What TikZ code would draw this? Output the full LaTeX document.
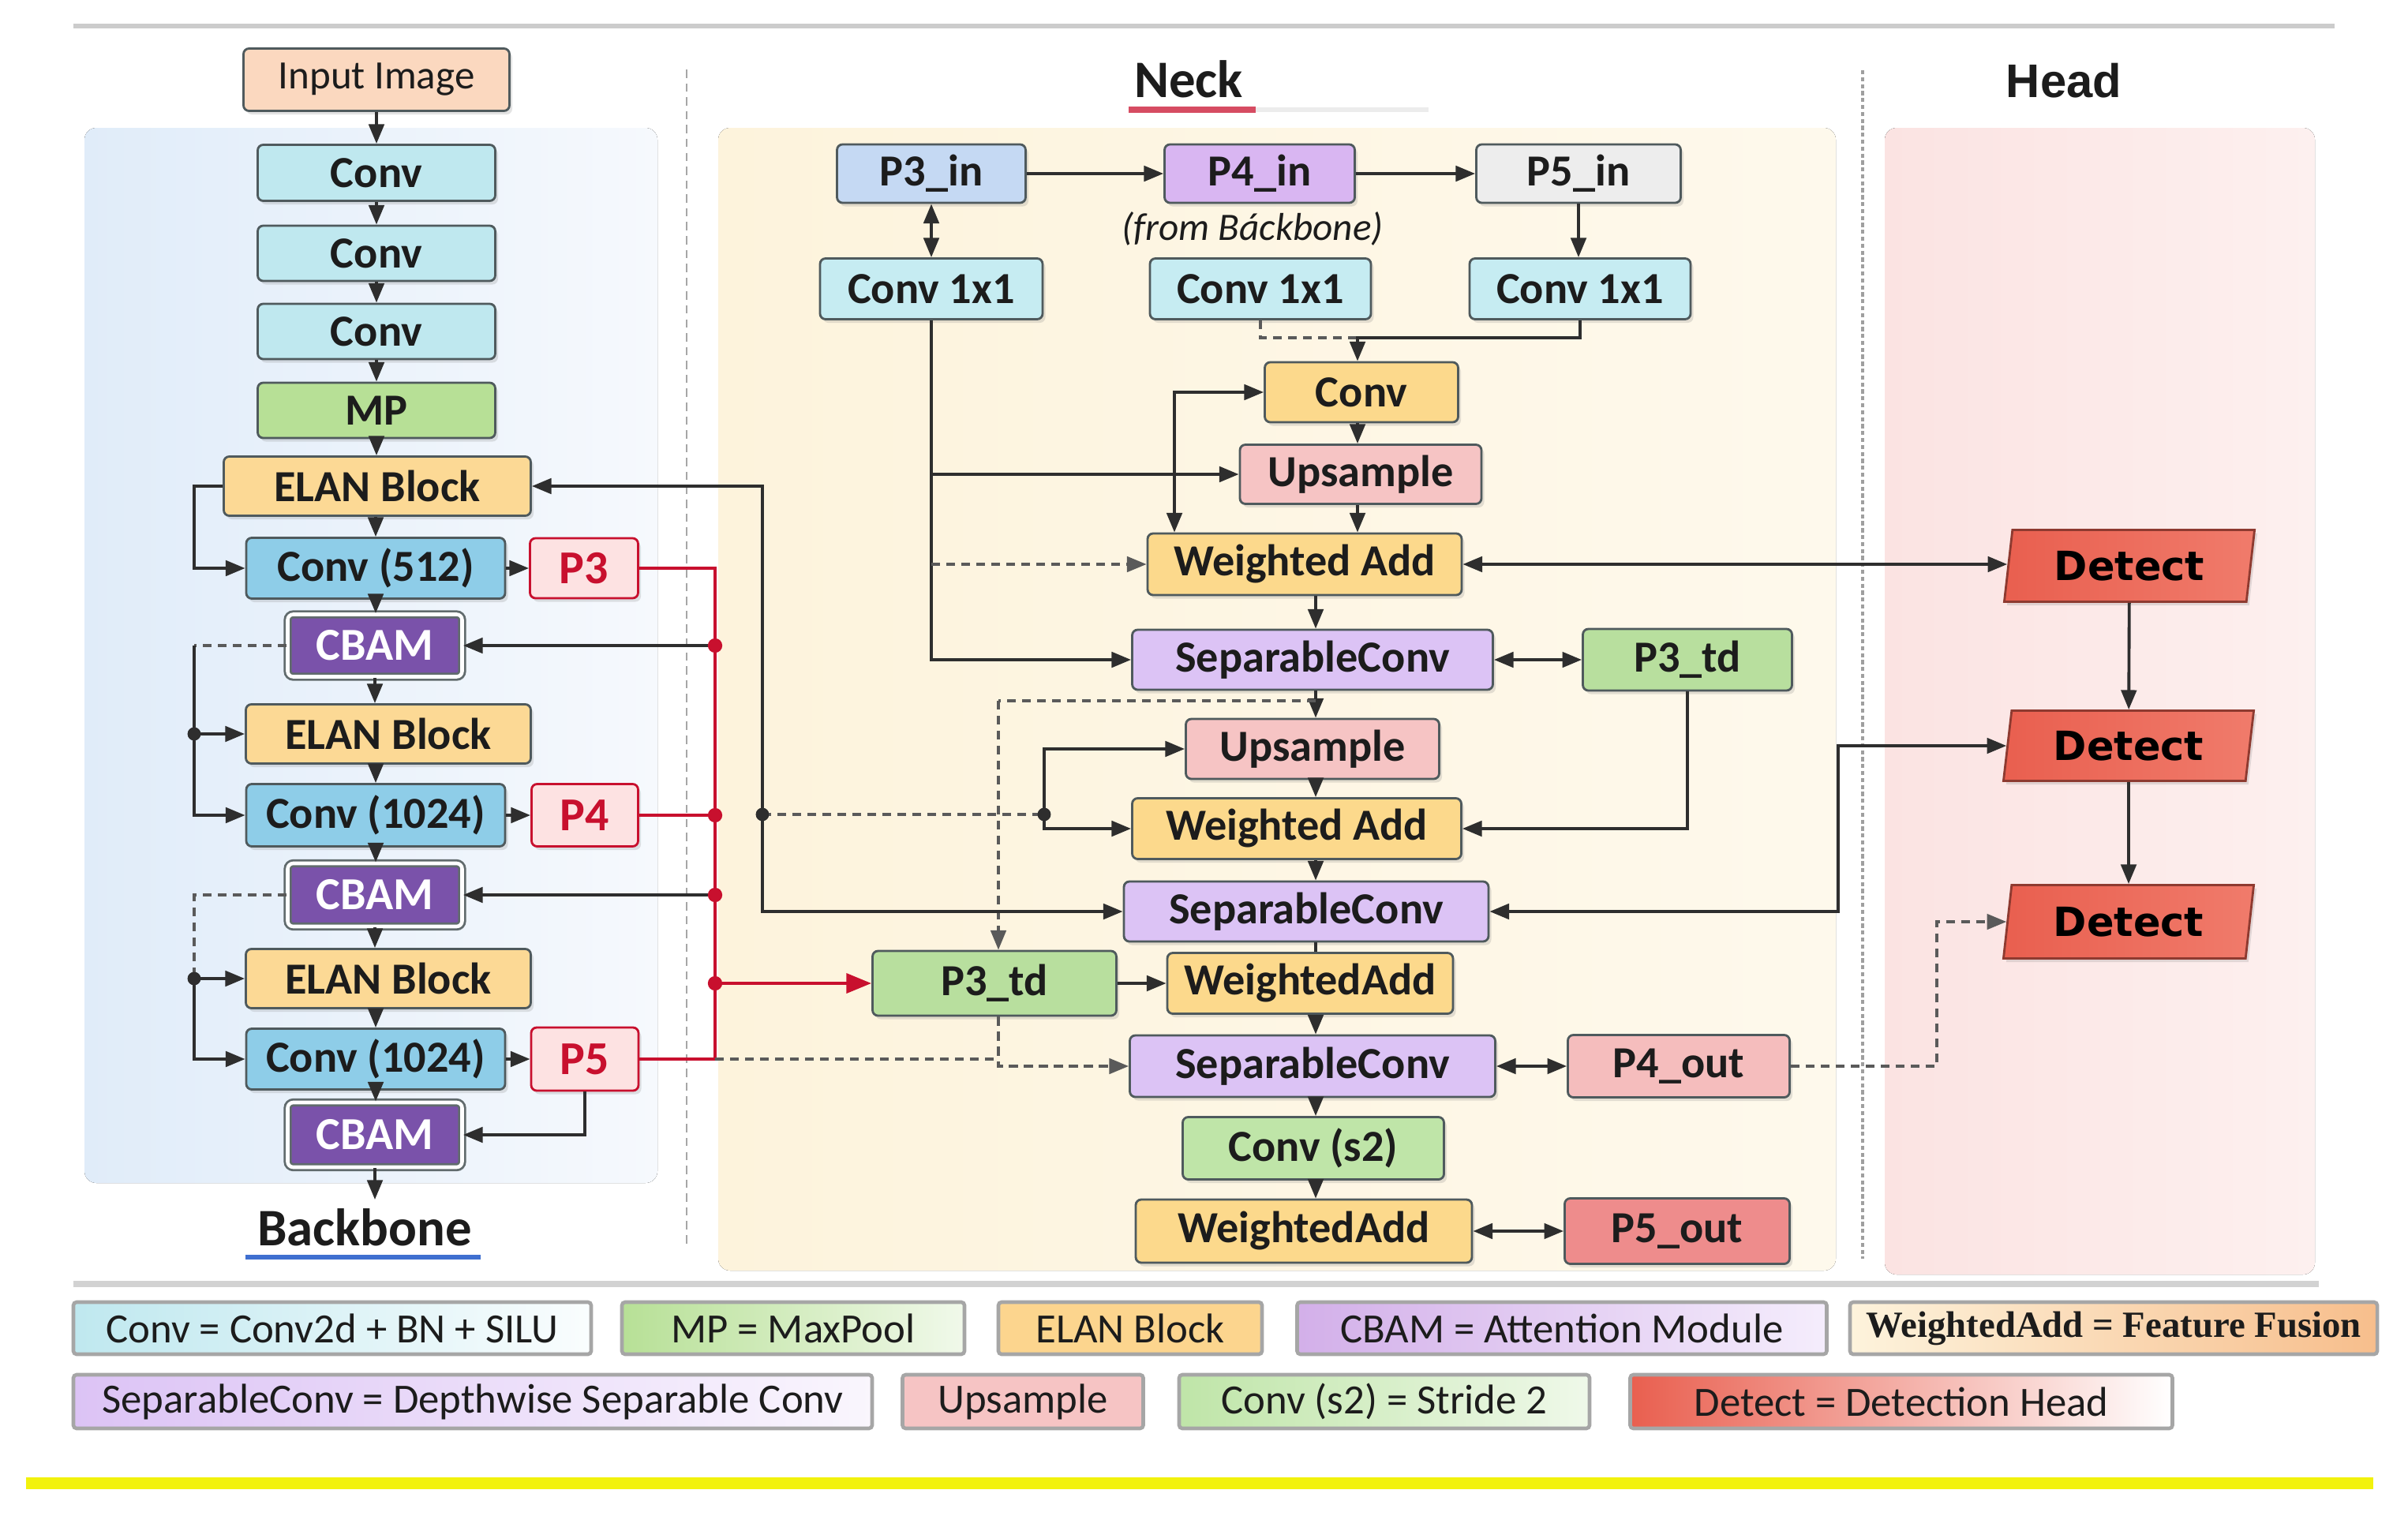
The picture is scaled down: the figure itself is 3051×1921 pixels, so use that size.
\documentclass[tikz,border=0pt]{standalone}
\usepackage{fontspec}
\setmainfont{Carlito}
\newfontfamily\detfont{DejaVu Sans}
\newfontfamily\headfont{Liberation Sans}
\newfontfamily\legserif{Liberation Serif}
\usetikzlibrary{arrows.meta,shapes.geometric,shadows}
\definecolor{txt}{HTML}{1C1C1C}
\definecolor{bord}{HTML}{4F5A5D}
\definecolor{linec}{HTML}{2E2E2E}
\definecolor{dashc}{HTML}{5A5A5A}
\definecolor{cInput}{HTML}{FBD8BF}
\definecolor{cConv}{HTML}{BFE8EF}
\definecolor{cMP}{HTML}{B7E096}
\definecolor{cElan}{HTML}{FCD995}
\definecolor{cConvB}{HTML}{8ECDE8}
\definecolor{cPfill}{HTML}{FDE2E2}
\definecolor{cPred}{HTML}{C8102E}
\definecolor{cCbam}{HTML}{7A52AA}
\definecolor{cP3in}{HTML}{C5D9F3}
\definecolor{cP4in}{HTML}{D9B6F2}
\definecolor{cP5in}{HTML}{EDEDED}
\definecolor{cC11}{HTML}{C6ECF2}
\definecolor{cOr}{HTML}{FCD98C}
\definecolor{cUp}{HTML}{F6C4C4}
\definecolor{cSep}{HTML}{DCC3F5}
\definecolor{cTd}{HTML}{B8DF9E}
\definecolor{cS2}{HTML}{BFE5A8}
\definecolor{cP4o}{HTML}{F5BDBD}
\definecolor{cP5o}{HTML}{EE8C8C}
\definecolor{detL}{HTML}{E95F4F}
\definecolor{detR}{HTML}{F07B6B}
\definecolor{detB}{HTML}{8E3A30}
\definecolor{redln}{HTML}{C8102E}
\definecolor{bbL}{HTML}{E0ECF9}
\definecolor{bbR}{HTML}{F6F9FD}
\definecolor{nkL}{HTML}{FDF3DC}
\definecolor{nkR}{HTML}{FEF9EC}
\definecolor{hdL}{HTML}{FBE3E2}
\definecolor{hdR}{HTML}{FDF0EF}
\definecolor{yel}{HTML}{F2F20C}
\definecolor{blueul}{HTML}{3F6FD0}
\definecolor{wafus}{HTML}{F7BE8C}
\begin{document}
\begin{tikzpicture}[x=0.01cm,y=-0.01cm,
  >={Triangle[length=7pt,width=5.5pt]},
  box/.style={draw=bord, line width=0.8pt, rounded corners=0.07cm, inner sep=0pt, text=txt,
    font=\bfseries\fontsize{16}{18}\selectfont,
    drop shadow={shadow xshift=0.035cm, shadow yshift=-0.045cm, opacity=0.22}},
  sz/.style 2 args={minimum width=#1*0.01cm, minimum height=#2*0.01cm},
  pbox/.style={box, fill=cPfill, draw=cPred, text=cPred, font=\bfseries\fontsize{17}{19}\selectfont},
  cbam/.style={box, fill=cCbam, draw=bord!90, double=white, double distance=1.3pt, text=white,
    font=\bfseries\fontsize{16.5}{19}\selectfont},
  det/.style={trapezium, trapezium left angle=80, trapezium right angle=100, trapezium stretches=true,
    draw=detB, line width=0.8pt, left color=detL, right color=detR, inner sep=0pt,
    font=\detfont\bfseries\fontsize{14.5}{17}\selectfont, text=black,
    drop shadow={shadow xshift=0.035cm, shadow yshift=-0.045cm, opacity=0.22}},
  ln/.style={draw=linec, line width=1.1pt},
  ar/.style={ln, ->},
  dar/.style={ln, <->},
  dsh/.style={draw=dashc, line width=1pt, dash pattern=on 3.2pt off 2.2pt},
  dshar/.style={dsh, ->},
  rln/.style={draw=redln, line width=1.3pt},
  rar/.style={rln, -{Triangle[length=9pt,width=7pt]}},
  leg/.style={draw=gray!70, line width=1.3pt, rounded corners=0.04cm, inner sep=0pt, font=\fontsize{15}{17}\selectfont, text=txt},
]
\useasboundingbox (0,0) rectangle (3051,1921);
\fill[white] (0,0) rectangle (3051,1921);

% panels
\fill[left color=bbL, right color=bbR, rounded corners=0.15cm] (107,162) rectangle (833,1499);
\fill[left color=nkL, right color=nkR, rounded corners=0.15cm] (910,162) rectangle (2326,1610);
\fill[left color=hdL, right color=hdR, rounded corners=0.15cm] (2388,162) rectangle (2933,1615);

% separators
\draw[gray!40, line width=1.6pt] (93,33) -- (2958,33);
\draw[gray!70, line width=0.8pt, dash pattern=on 3pt off 2pt] (870,88) -- (870,1580);
\draw[gray!75, line width=1.3pt, dash pattern=on 1.5pt off 1pt] (2360,89) -- (2360,1595);
\draw[gray!35, line width=2.2pt] (93,1627) -- (2938,1627);
\fill[yel] (33,1872) rectangle (3007,1887);

% titles
\node[font=\bfseries\fontsize{19}{22}\selectfont, text=txt] (tneck) at (1506,100) {Neck};
\draw[redln!75, line width=2pt] (1430,139) -- (1591,139);
\draw[gray!15, line width=1.5pt] (1591,139) -- (1810,139);
\node[font=\headfont\bfseries\fontsize{17}{20}\selectfont, text=txt] (thead) at (2615,102) {Head};

% ---------------- Backbone ----------------
\node[box, sz={337}{79}, fill=cInput, font=\fontsize{14.5}{17}\selectfont] (inimg) at (477,101) {Input Image};
\node[box, sz={301}{71}, fill=cConv] (conv1) at (477,219) {Conv};
\node[box, sz={301}{70}, fill=cConv] (conv2) at (477,321) {Conv};
\node[box, sz={301}{70}, fill=cConv] (conv3) at (477,420) {Conv};
\node[box, sz={301}{70}, fill=cMP] (mp) at (477,520) {MP};
\node[box, sz={389}{75}, fill=cElan] (elan1) at (478,616) {ELAN Block};
\node[box, sz={328}{77}, fill=cConvB] (c512) at (476,720) {Conv (512)};
\node[pbox, sz={137}{76}] (p3) at (740,720) {P3};
\node[cbam, sz={221}{79}] (cbam1) at (475,818) {CBAM};
\node[box, sz={361}{75}, fill=cElan] (elan2) at (492,930) {ELAN Block};
\node[box, sz={328}{79}, fill=cConvB] (c1024a) at (476,1033) {Conv (1024)};
\node[pbox, sz={135}{79}] (p4) at (741,1033) {P4};
\node[cbam, sz={221}{80}] (cbam2) at (475,1134) {CBAM};
\node[box, sz={361}{75}, fill=cElan] (elan3) at (492,1240) {ELAN Block};
\node[box, sz={328}{77}, fill=cConvB] (c1024b) at (476,1342) {Conv (1024)};
\node[pbox, sz={136}{80}] (p5) at (741,1342) {P5};
\node[cbam, sz={221}{82}] (cbam3) at (475,1438) {CBAM};
\node[font=\bfseries\fontsize{19}{22}\selectfont, text=txt, inner sep=3pt] (bbl) at (462,1555) {Backbone};
\draw[blueul, line width=1.8pt] (311,1593) -- (609,1593);

% backbone chain
\draw[ar] (inimg) -- (conv1);
\draw[ar] (conv1) -- (conv2);
\draw[ar] (conv2) -- (conv3);
\draw[ar] (conv3) -- (mp);
\draw[ar] (mp.south) -- (mp.south |- elan1.north);
\draw[ar] (c512.north |- elan1.south) -- (c512.north);
\draw[ar] (c512.south) -- (c512.south |- cbam1.north);
\draw[ar] (cbam1.south) -- (cbam1.south |- elan2.north);
\draw[ar] (c1024a.north |- elan2.south) -- (c1024a.north);
\draw[ar] (c1024a.south) -- (c1024a.south |- cbam2.north);
\draw[ar] (cbam2.south) -- (cbam2.south |- elan3.north);
\draw[ar] (c1024b.north |- elan3.south) -- (c1024b.north);
\draw[ar] (c1024b.south) -- (c1024b.south |- cbam3.north);
\draw[ar] (cbam3.south) -- (cbam3.south |- bbl.north);
\draw[ar] (c512) -- (p3);
\draw[ar] (c1024a) -- (p4);
\draw[ar] (c1024b) -- (p5);

% backbone loops
\coordinate (lx) at (246,0);
\draw[ar] (elan1.west) -- (elan1.west -| lx) |- (c512.west);
\draw[dsh] (cbam1.west) -- (cbam1.west -| lx);
\draw[ar] (cbam1.west -| lx) |- (c1024a.west);
\draw[ar] (elan2.west -| lx) -- (elan2.west);
\fill[linec] (elan2.west -| lx) circle[radius=2.4pt];
\draw[dsh] (cbam2.west) -- (cbam2.west -| lx) -- (elan3.west -| lx);
\draw[ar] (elan3.west -| lx) |- (c1024b.west);
\draw[ar] (elan3.west -| lx) -- (elan3.west);
\fill[linec] (elan3.west -| lx) circle[radius=2.4pt];
\draw[ar] (p5.south) |- (cbam3.east);

% red bus
\coordinate (r5) at (906,1342);
\coordinate (j1) at (cbam1.east -| r5);
\coordinate (j2) at (cbam2.east -| r5);
\coordinate (j4) at (p4.east -| r5);
\coordinate (j3) at (906,1246);
\draw[rln] (p3.east) -| (r5) -- (p5.east);
\draw[rln] (p4.east) -- (j4);
\draw[ar] (j1) -- (cbam1.east);
\draw[ar] (j2) -- (cbam2.east);
\foreach \p in {j1,j2,j3,j4} \fill[redln] (\p) circle[radius=2.6pt];

% ---------------- Neck ----------------
\node[box, sz={239}{74}, fill=cP3in] (p3in) at (1180,220) {P3\_in};
\node[box, sz={241}{74}, fill=cP4in] (p4in) at (1596,220) {P4\_in};
\node[box, sz={259}{74}, fill=cP5in] (p5in) at (2000,220) {P5\_in};
\node[font=\itshape\fontsize{14}{16}\selectfont, text=txt] (fromb) at (1587,290) {(from Báckbone)};
\node[box, sz={282}{77}, fill=cC11] (c11a) at (1180,366) {Conv 1x1};
\node[box, sz={280}{77}, fill=cC11] (c11b) at (1597,366) {Conv 1x1};
\node[box, sz={280}{77}, fill=cC11] (c11c) at (2002,366) {Conv 1x1};
\node[box, sz={245}{76}, fill=cOr] (nconv) at (1725,497) {Conv};
\node[box, sz={306}{75}, fill=cUp] (up1) at (1724,601) {Upsample};
\node[box, sz={398}{78}, fill=cOr] (wa1) at (1653,715) {Weighted Add};
\node[box, sz={457}{76}, fill=cSep] (sc1) at (1663,836) {SeparableConv};
\node[box, sz={265}{78}, fill=cTd] (p3tdR) at (2138,836) {P3\_td};
\node[box, sz={321}{76}, fill=cUp] (up2) at (1663,949) {Upsample};
\node[box, sz={417}{77}, fill=cOr] (wa2) at (1643,1050) {Weighted Add};
\node[box, sz={462}{76}, fill=cSep] (sc2) at (1655,1155) {SeparableConv};
\node[box, sz={309}{82}, fill=cTd] (p3tdL) at (1260,1246) {P3\_td};
\node[box, sz={362}{77}, fill=cOr] (wa3) at (1660,1246) {WeightedAdd};
\node[box, sz={463}{78}, fill=cSep] (sc3) at (1663,1351) {SeparableConv};
\node[box, sz={281}{79}, fill=cP4o] (p4out) at (2127,1351) {P4\_out};
\node[box, sz={331}{79}, fill=cS2] (cs2) at (1664,1455) {Conv (s2)};
\node[box, sz={426}{80}, fill=cOr] (wa4) at (1652,1560) {WeightedAdd};
\node[box, sz={285}{83}, fill=cP5o] (p5out) at (2125,1560) {P5\_out};

% ---------------- Head ----------------
\node[det, minimum width=3.18cm, minimum height=0.91cm] (d1) at (2698,717) {Detect};
\node[det, minimum width=3.18cm, minimum height=0.89cm] (d2) at (2697,945) {Detect};
\node[det, minimum width=3.18cm, minimum height=0.93cm] (d3) at (2697,1168) {Detect};
\draw[ar] (d1) -- (d2);
\draw[ar] (d2) -- (d3);

% neck connectors
\draw[ar] (p3in) -- (p4in);
\draw[ar] (p4in) -- (p5in);
\draw[dar] (p3in) -- (c11a);
\draw[ar] (p5in.south) -- (p5in.south |- c11c.north);
\coordinate (m1) at (1720,428);
\draw[dsh] (c11b.south) |- (m1);
\draw[ar] (c11c.south) |- (m1) -- (m1 |- nconv.north);
\draw[ar] (m1 |- nconv.south) -- (m1 |- up1.north);
\draw[ar] (m1 |- up1.south) -- (m1 |- wa1.north);
\coordinate (lp) at (1488,0);
\draw[dar] (nconv.west) -| (lp |- wa1.north);
\draw[ar] (c11a.south) |- (sc1.west);
\draw[ar] (c11a.south |- up1.west) -- (up1.west);
\draw[dshar] (c11a.south |- wa1.west) -- (wa1.west);
\draw[dar] (wa1.east) -- (wa1.east -| d1.west);
\coordinate (cx) at (1667,0);
\draw[ar] (cx |- wa1.south) -- (cx |- sc1.north);
\draw[dar] (sc1.east) -- (p3tdR.west);
\draw[ar] (cx |- sc1.south) -- (cx |- up2.north);
\coordinate (dq) at (1265,888);
\draw[dsh] (cx |- dq) -- (dq);
\draw[dshar] (dq) -- (dq |- p3tdL.north);
\draw[ar] (cx |- up2.south) -- (cx |- wa2.north);
\draw[ar] (p3tdR.south) |- (wa2.east);
\draw[ar] (cx |- wa2.south) -- (cx |- sc2.north);
\coordinate (hx) at (2329,0);
\draw[dar] (sc2.east) -- (sc2.east -| hx) |- (d2.west);
\draw[ln] (cx |- sc2.south) -- (cx |- wa3.north);
\draw[rar] (j3) -- (p3tdL.west);
\draw[ar] (p3tdL) -- (wa3);
\draw[ar] (cx |- wa3.south) -- (cx |- sc3.north);
\draw[dsh] (r5) -- (r5 -| dq);
\draw[dshar] (p3tdL.south -| dq) |- (sc3.west);
\draw[dar] (sc3) -- (p4out);
\coordinate (ex) at (2454,0);
\draw[dshar] (p4out.east) -| (ex |- d3.west) -- (d3.west);
\draw[ar] (cx |- sc3.south) -- (cx |- cs2.north);
\draw[ar] (cx |- cs2.south) -- (cx |- wa4.north);
\draw[dar] (wa4) -- (p5out);

% backbone <-> neck
\coordinate (vx) at (966,0);
\draw[dar] (elan1.east) -- (elan1.east -| vx) |- (sc2.west);
\coordinate (dA) at (966,1032);
\coordinate (dB) at (1323,1032);
\draw[dsh] (dA) -- (dB);
\draw[ar] (dB) |- (up2.west);
\draw[ar] (dB) |- (wa2.west);
\fill[linec] (dA) circle[radius=2.4pt];
\fill[linec] (dB) circle[radius=2.4pt];

% ---------------- Legend ----------------
\node[leg, sz={656}{66}, left color=cConv, right color=white!92!cConv] (l1) at (421,1683) {Conv = Conv2d + BN + SILU};
\node[leg, sz={434}{66}, left color=cMP, right color=white!80!cMP] (l2) at (1005,1683) {MP = MaxPool};
\node[leg, sz={334}{66}, fill=cElan!95!orange] (l3) at (1432,1683) {ELAN Block};
\node[leg, sz={671}{66}, left color=cSep!90!violet, right color=white!70!cSep] (l4) at (1979,1683) {CBAM = Attention Module};
\node[leg, sz={668}{66}, left color=nkL, right color=wafus, font=\legserif\bfseries\fontsize{13.3}{15}\selectfont] (l5) at (2678,1683) {WeightedAdd = Feature Fusion};
\node[leg, sz={1012}{68}, left color=cSep, right color=white!85!cSep] (l6) at (599,1776) {SeparableConv = Depthwise Separable Conv};
\node[leg, sz={305}{68}, fill=cUp] (l7) at (1296,1776) {Upsample};
\node[leg, sz={520}{68}, left color=cS2, right color=white!75!cS2] (l8) at (1754,1776) {Conv (s2) = Stride 2};
\node[leg, sz={687}{68}, left color=detL, right color=white] (l9) at (2409,1776) {Detect = Detection Head};
\end{tikzpicture}
\end{document}
